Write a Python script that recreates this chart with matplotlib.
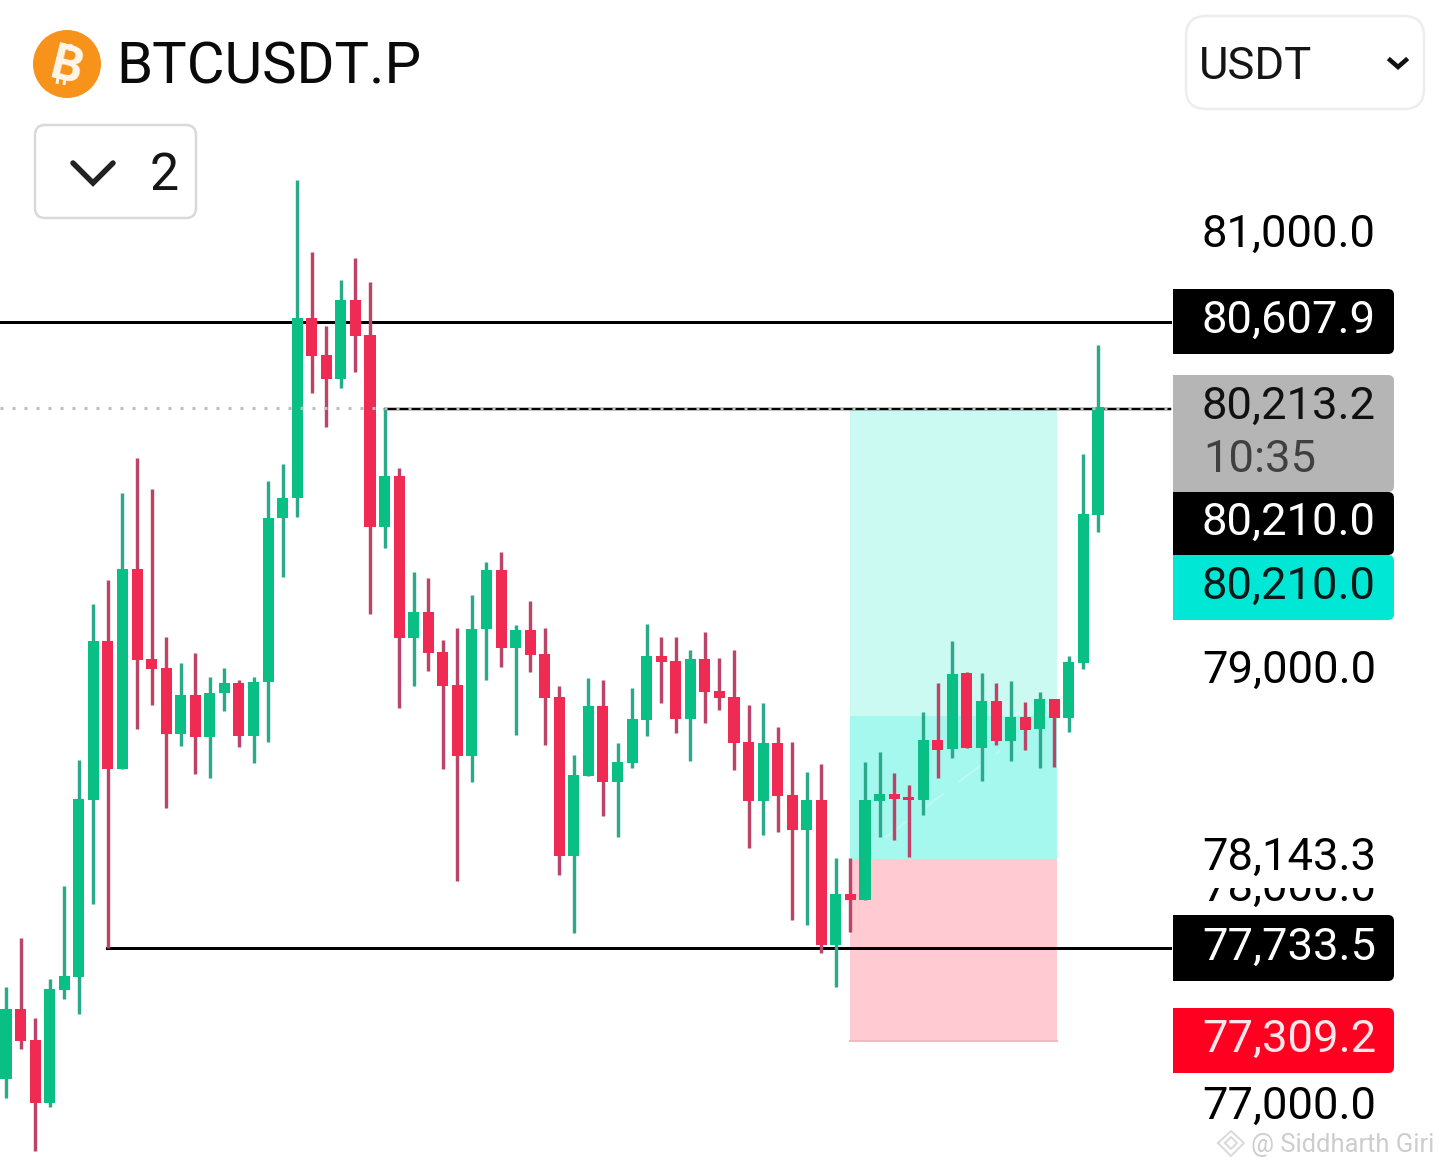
import matplotlib
matplotlib.use("Agg")
from matplotlib import pyplot as plt
from matplotlib.patches import Circle, FancyBboxPatch, Rectangle
import numpy as np

plt.rcParams['font.family'] = ['Roboto', 'DejaVu Sans']

# candles, oldest first
highs = [77556, 77781, 77413, 77593, 78019, 78598, 79313, 79423, 79822, 79983,
         79840, 79161, 79043, 79089, 78979, 79020, 78965, 78979, 79877, 79955,
         81258, 80927, 80588, 80799, 80900, 80790, 80212, 79937, 79459, 79432,
         79148, 79203, 79354, 79505, 79551, 79217, 79326, 79203, 78937, 78620,
         78974, 78965, 78675, 78928, 79221, 79161, 79161, 79102, 79184, 79065,
         79102, 78850, 78859, 78749, 78680, 78542, 78579, 78148, 78148, 78588,
         78634, 78538, 78483, 78817, 78951, 79143, 79001, 78997, 78951, 78960,
         78863, 78909, 78877, 79074, 80001, 80501]
lows = [77047, 77271, 76804, 77006, 77501, 77432, 77937, 77735, 78556, 78740,
        78850, 78377, 78662, 78534, 78515, 78823, 78657, 78584, 78680, 79437,
        79712, 80280, 80125, 80304, 80377, 79267, 79570, 78836, 78937, 79006,
        78556, 78042, 78496, 78964, 79024, 78712, 79001, 78666, 78070, 77804,
        78524, 78341, 78244, 78561, 78708, 78859, 78721, 78593, 78767, 78827,
        78551, 78194, 78253, 78267, 77863, 77840, 77712, 77556, 77808, 77955,
        78244, 78230, 78152, 78345, 78515, 78607, 78652, 78501, 78666, 78593,
        78643, 78561, 78565, 78726, 79015, 79643]
opens = [77134, 77455, 77313, 77024, 77542, 77602, 78414, 79143, 78556, 79473,
         79061, 79020, 78717, 78896, 78703, 78905, 78951, 78708, 78956, 79707,
         79799, 80624, 80455, 80345, 80707, 80547, 79666, 79900, 79157, 79276,
         79093, 78942, 78616, 79198, 79469, 79111, 79194, 79084, 78886, 78157,
         78524, 78845, 78496, 78584, 78781, 79074, 79051, 78786, 79061, 78914,
         78886, 78680, 78409, 78675, 78437, 78276, 78414, 77748, 77983, 77955,
         78409, 78441, 78428, 78414, 78689, 78648, 78997, 78652, 78868, 78684,
         78795, 78740, 78877, 78790, 79043, 79721]
closes = [77455, 77308, 77024, 77546, 77606, 78419, 79143, 78556, 79473, 79056,
          79015, 78717, 78896, 78703, 78905, 78951, 78708, 78956, 79707, 79799,
          80624, 80450, 80345, 80707, 80542, 79666, 79900, 79157, 79276, 79088,
          78937, 78616, 79198, 79469, 79111, 79194, 79079, 78882, 78157, 78529,
          78845, 78496, 78588, 78786, 79074, 79047, 78786, 79061, 78909, 78882,
          78675, 78409, 78675, 78432, 78276, 78414, 77748, 77983, 77955, 78414,
          78441, 78419, 78414, 78689, 78643, 78992, 78652, 78868, 78684, 78795,
          78735, 78877, 78790, 79047, 79726, 80217]

# price levels
level_top = 80607.9
level_last = 80213.2
level_entry = 80210.0
level_target = 78143.3
level_low = 77733.5
level_stop = 77309.2
level_mid = 78800.0

tick_labels = ["81,000.0", "79,000.0", "77,000.0"]
tag_labels = ["80,607.9", "80,213.2", "80,210.0", "80,210.0", "77,733.5", "77,309.2"]

W, H = 1440, 1168
px = 72.0 / 100  # points per pixel at dpi 100

fig = plt.figure(figsize=(W / 100, H / 100), dpi=100, facecolor='white')
ax = fig.add_axes([0, 0, 1, 1])
ax.set_xlim(-0.412, 98.49)
ax.set_ylim(76726, 82084)
ax.axis('off')


def to_x(pixel):  # pixel column to candle number
    return (pixel - 6) / 14.56


# long position box
box_l, box_r = to_x(850), to_x(1057)
ax.fill_between([box_l, box_r], level_target, level_entry, color='#CBFAF3', lw=0, zorder=1)
ax.fill_between([box_l, box_r], level_target, level_mid, color='#A5F8EE', lw=0, zorder=1.1)
ax.fill_between([box_l, box_r], level_stop, level_target, color='#FFCAD2', lw=0, zorder=1)
ax.plot([box_l, box_r], [level_stop, level_stop], color='#F4B9C2', lw=2 * px, zorder=1.2)
ax.plot([to_x(885), to_x(1000)], [78240, 78640], color='white', alpha=0.25,
        lw=2 * px, ls=(0, (14, 9)), zorder=1.2)

# level lines
ax.plot([to_x(0), to_x(1170)], [level_top, level_top], color='black', lw=3 * px, zorder=2)
ax.plot([to_x(107), to_x(1170)], [level_low, level_low], color='black', lw=3 * px, zorder=2)
ax.plot([to_x(385), to_x(1170)], [level_entry, level_entry], color='black', lw=2.5 * px, zorder=2)

# candles
x = np.arange(len(opens))
o = np.array(opens)
c = np.array(closes)
up = c >= o
wick_colors = np.where(up, '#2BA98B', '#BC4468')
body_colors = np.where(up, '#0ABF84', '#EF2B54')
ax.vlines(x, lows, highs, colors=wick_colors, lw=3.4 * px, zorder=3)
ax.bar(x, np.abs(c - o), bottom=np.minimum(o, c), width=0.76, color=body_colors, lw=0, zorder=4)

# dotted last price line goes over the candles
ax.plot([to_x(0), to_x(1170)], [level_last, level_last], color='#BDBDBD', lw=3 * px,
        ls=(0, (1, 3)), zorder=5)

# everything else is screen furniture, drawn in pixels
ui = fig.add_axes([0, 0, 1, 1])
ui.set_xlim(0, W)
ui.set_ylim(H, 0)
ui.axis('off')
ui.patch.set_alpha(0)


def tag(y0, y1, color):
    ui.add_patch(FancyBboxPatch((1179, y0 + 6), 221 - 12, y1 - y0 - 12,
                                boxstyle="round,pad=6,rounding_size=6",
                                fc=color, ec='none', zorder=3))
    ui.add_patch(Rectangle((1173, y0), 40, y1 - y0, fc=color, ec='none', zorder=3))


def price_text(y, s, color='black'):
    ui.text(1376, y, s, ha='right', va='baseline', fontsize=45.4 * px, color=color, zorder=6)


price_text(247, tick_labels[0])
price_text(683, tick_labels[1])
price_text(901, "78,000.0")
ui.add_patch(Rectangle((1200, 866), 190, 22, fc='white', ec='none', zorder=6.5))
ui.text(1376, 870, "78,143.3", ha='right', va='baseline', fontsize=45.4 * px, color='black', zorder=7)
price_text(1119, tick_labels[2])

tag(289, 354, 'black')
price_text(333, tag_labels[0], 'white')
tag(375, 492, '#B5B5B5')
price_text(419, tag_labels[1], '#111111')
ui.text(1203, 472, "10:35", ha='left', va='baseline', fontsize=45.4 * px, color='#404040', zorder=6)
tag(492, 555, 'black')
price_text(535, tag_labels[2], 'white')
tag(555, 620, '#00E8D5')
price_text(599, tag_labels[3], '#0A1A1A')
tag(915, 981, 'black')
price_text(960, tag_labels[4], 'white')
tag(1008, 1073, '#FF0020')
price_text(1052, tag_labels[5], '#FFE6EA')

# header
ui.add_patch(Circle((67, 64), 34, fc='#F7931A', ec='none'))
ui.text(67, 68, "B", ha='center', va='center', fontsize=50 * px, fontweight='bold',
        color='#FFF6EA', rotation=-14)
for x0, y0, x1, y1 in [(64, 43, 63, 50), (71, 44, 70, 51), (58, 77, 57, 84), (65, 78, 64, 85)]:
    ui.plot([x0, x1], [y0, y1], color='#FFF6EA', lw=3 * px, solid_capstyle='butt')
ui.text(116, 83, "BTCUSDT.P", ha='left', va='baseline', fontsize=58 * px, color='#0A0A0A')

ui.add_patch(FancyBboxPatch((45, 135), 141, 73, boxstyle="round,pad=10,rounding_size=10",
                            fc='white', ec='#D9D9D9', lw=2.5 * px))
ui.plot([73, 93, 113], [163, 183, 163], color='#222222', lw=5.5 * px,
        solid_capstyle='round', solid_joinstyle='miter')
ui.text(164, 190, "2", ha='center', va='baseline', fontsize=52 * px, color='#151515')

ui.add_patch(FancyBboxPatch((1206, 36), 198, 53, boxstyle="round,pad=20,rounding_size=20",
                            fc='white', ec='#EDEDED', lw=2.5 * px))
ui.text(1199, 79, "USDT", ha='left', va='baseline', fontsize=45.4 * px, color='#151515')
ui.plot([1390, 1398, 1406], [60, 67, 60], color='#111111', lw=4.5 * px, solid_joinstyle='miter')

# watermark
ui.text(1251, 1152, "@ Siddharth Giri", ha='left', va='baseline', fontsize=25.5 * px,
        color='#CDCDCD', zorder=8)
ui.plot([1218, 1231, 1244, 1231, 1218], [1143, 1131, 1143, 1156, 1143], color='#DADADA',
        lw=2 * px, zorder=8)
ui.plot([1225, 1231, 1237, 1231, 1225], [1143, 1137, 1143, 1149, 1143], color='#DADADA',
        lw=2 * px, zorder=8)

fig.savefig("out.png", dpi=100, facecolor='white')
